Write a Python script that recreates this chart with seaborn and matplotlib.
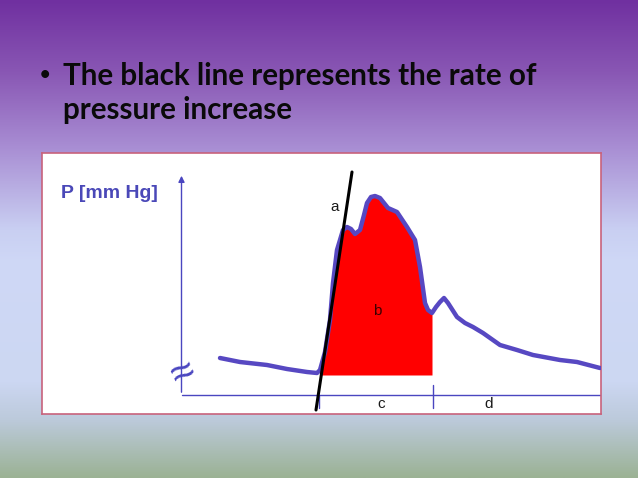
import numpy as np
import seaborn as sns
import matplotlib.pyplot as plt
from matplotlib.colors import LinearSegmentedColormap

# pressure trace (arbitrary time / pressure units)
time = [178, 198, 225, 245, 265, 275, 278, 283, 288, 291, 295, 301, 305, 309,
        313, 318, 322, 325, 329, 333, 338, 346, 355, 365, 373, 378, 383, 386,
        390, 394, 398, 402, 406, 415, 423, 431, 441, 458, 475, 491, 518, 535, 558]
pressure = [56, 52, 49, 45, 42, 41, 44, 62, 94, 131, 164, 184, 187, 185,
            180, 184, 199, 211, 217, 218, 216, 206, 202, 187, 174, 147, 111, 104,
            101, 107, 112, 116, 111, 97, 91, 87, 81, 69, 64, 59, 54, 52, 46]

# tangent (rate of pressure increase)
tangent_time = [274, 310]
tangent_pressure = [4, 242]

# shaded ejection area
fill_start, fill_end = 276, 390
fill_base = 39

# phase boundaries on the time axis and their labels
phase_edges = [277, 391]
phase_labels = ["c", "d"]
phase_label_x = [339, 447]

title_lines = ["The black line represents the rate of", "pressure increase"]

sns.set_theme(style="white")
plt.rcParams["font.family"] = ["Liberation Sans", "DejaVu Sans"]

fig = plt.figure(figsize=(6.38, 4.78), dpi=100)

# slide background gradient
bg = fig.add_axes([0, 0, 1, 1])
cmap = LinearSegmentedColormap.from_list("slide", [
    (0.0, "#7030a0"), (0.15, "#8957b4"), (0.3, "#a78bd2"), (0.48, "#c9cff2"),
    (0.55, "#cfd8f6"), (0.8, "#ccd7f2"), (0.88, "#bccadb"), (1.0, "#9bb294")])
bg.imshow(np.linspace(0, 1, 256).reshape(-1, 1), aspect="auto", cmap=cmap,
          extent=[0, 1, 0, 1])
bg.set_axis_off()

# bullet text
fig.text(45 / 638, 1 - 75 / 478, "\u2022", fontsize=13, fontfamily="Lato",
         fontweight="bold", color="#0a0a0a", va="center", ha="center")
for i, line in enumerate(title_lines):
    fig.text(63 / 638, 1 - (85 + 34 * i) / 478, line, fontsize=21.3,
             fontfamily="Lato", fontweight="bold", color="#0a0a0a", va="baseline")

# white diagram box
ax = fig.add_axes([42 / 638, 64 / 478, 559 / 638, 261 / 478])
ax.set_facecolor("white")
ax.set_xlim(0, 559)
ax.set_ylim(0, 261)
ax.set_xticks([])
ax.set_yticks([])
for s in ax.spines.values():
    s.set_color("#c8627c")
    s.set_linewidth(1.2)

axis_col = "#4a46c0"
curve_col = "#5748c2"

# axes with arrow
ax.annotate("", xy=(139.5, 241), xytext=(139.5, 19),
            arrowprops=dict(arrowstyle="-|>", color=axis_col, lw=1.0,
                            mutation_scale=9))
ax.plot([139.5, 559], [19, 19], color=axis_col, lw=1.0)
ax.text(19, 221, "P [mm Hg]", fontsize=14, fontweight="bold", color="#4a48b8",
        va="center", ha="left")
ax.text(142, 40, "\u2248", fontsize=30, color=axis_col, ha="center",
        va="center", rotation=25)

# phase ticks and labels
ax.plot([phase_edges[0]] * 2, [19, 6], color=axis_col, lw=1.0)
ax.plot([phase_edges[1]] * 2, [29, 6], color=axis_col, lw=1.0)
for lx, lab in zip(phase_label_x, phase_labels):
    ax.text(lx, 10, lab, fontsize=11, color="#1a1a1a", ha="center", va="center")

# red area under the curve
t = np.array(time)
p = np.array(pressure)
mask = (t >= fill_start) & (t <= fill_end)
ax.fill_between(t[mask], p[mask], fill_base, color="#ff0000", lw=0, zorder=2)

sns.lineplot(x=time, y=pressure, ax=ax, sort=False, color=curve_col, lw=3.2,
             zorder=3, solid_joinstyle="round", solid_capstyle="round")
sns.lineplot(x=tangent_time, y=tangent_pressure, ax=ax, sort=False,
             color="black", lw=2.2, zorder=4)

ax.text(293, 207, "a", fontsize=11, color="#1a1a1a", ha="center", va="center")
ax.text(335, 103, "b", fontsize=11, color="#3a0000", ha="center", va="center")

fig.savefig("out.png", dpi=100)
